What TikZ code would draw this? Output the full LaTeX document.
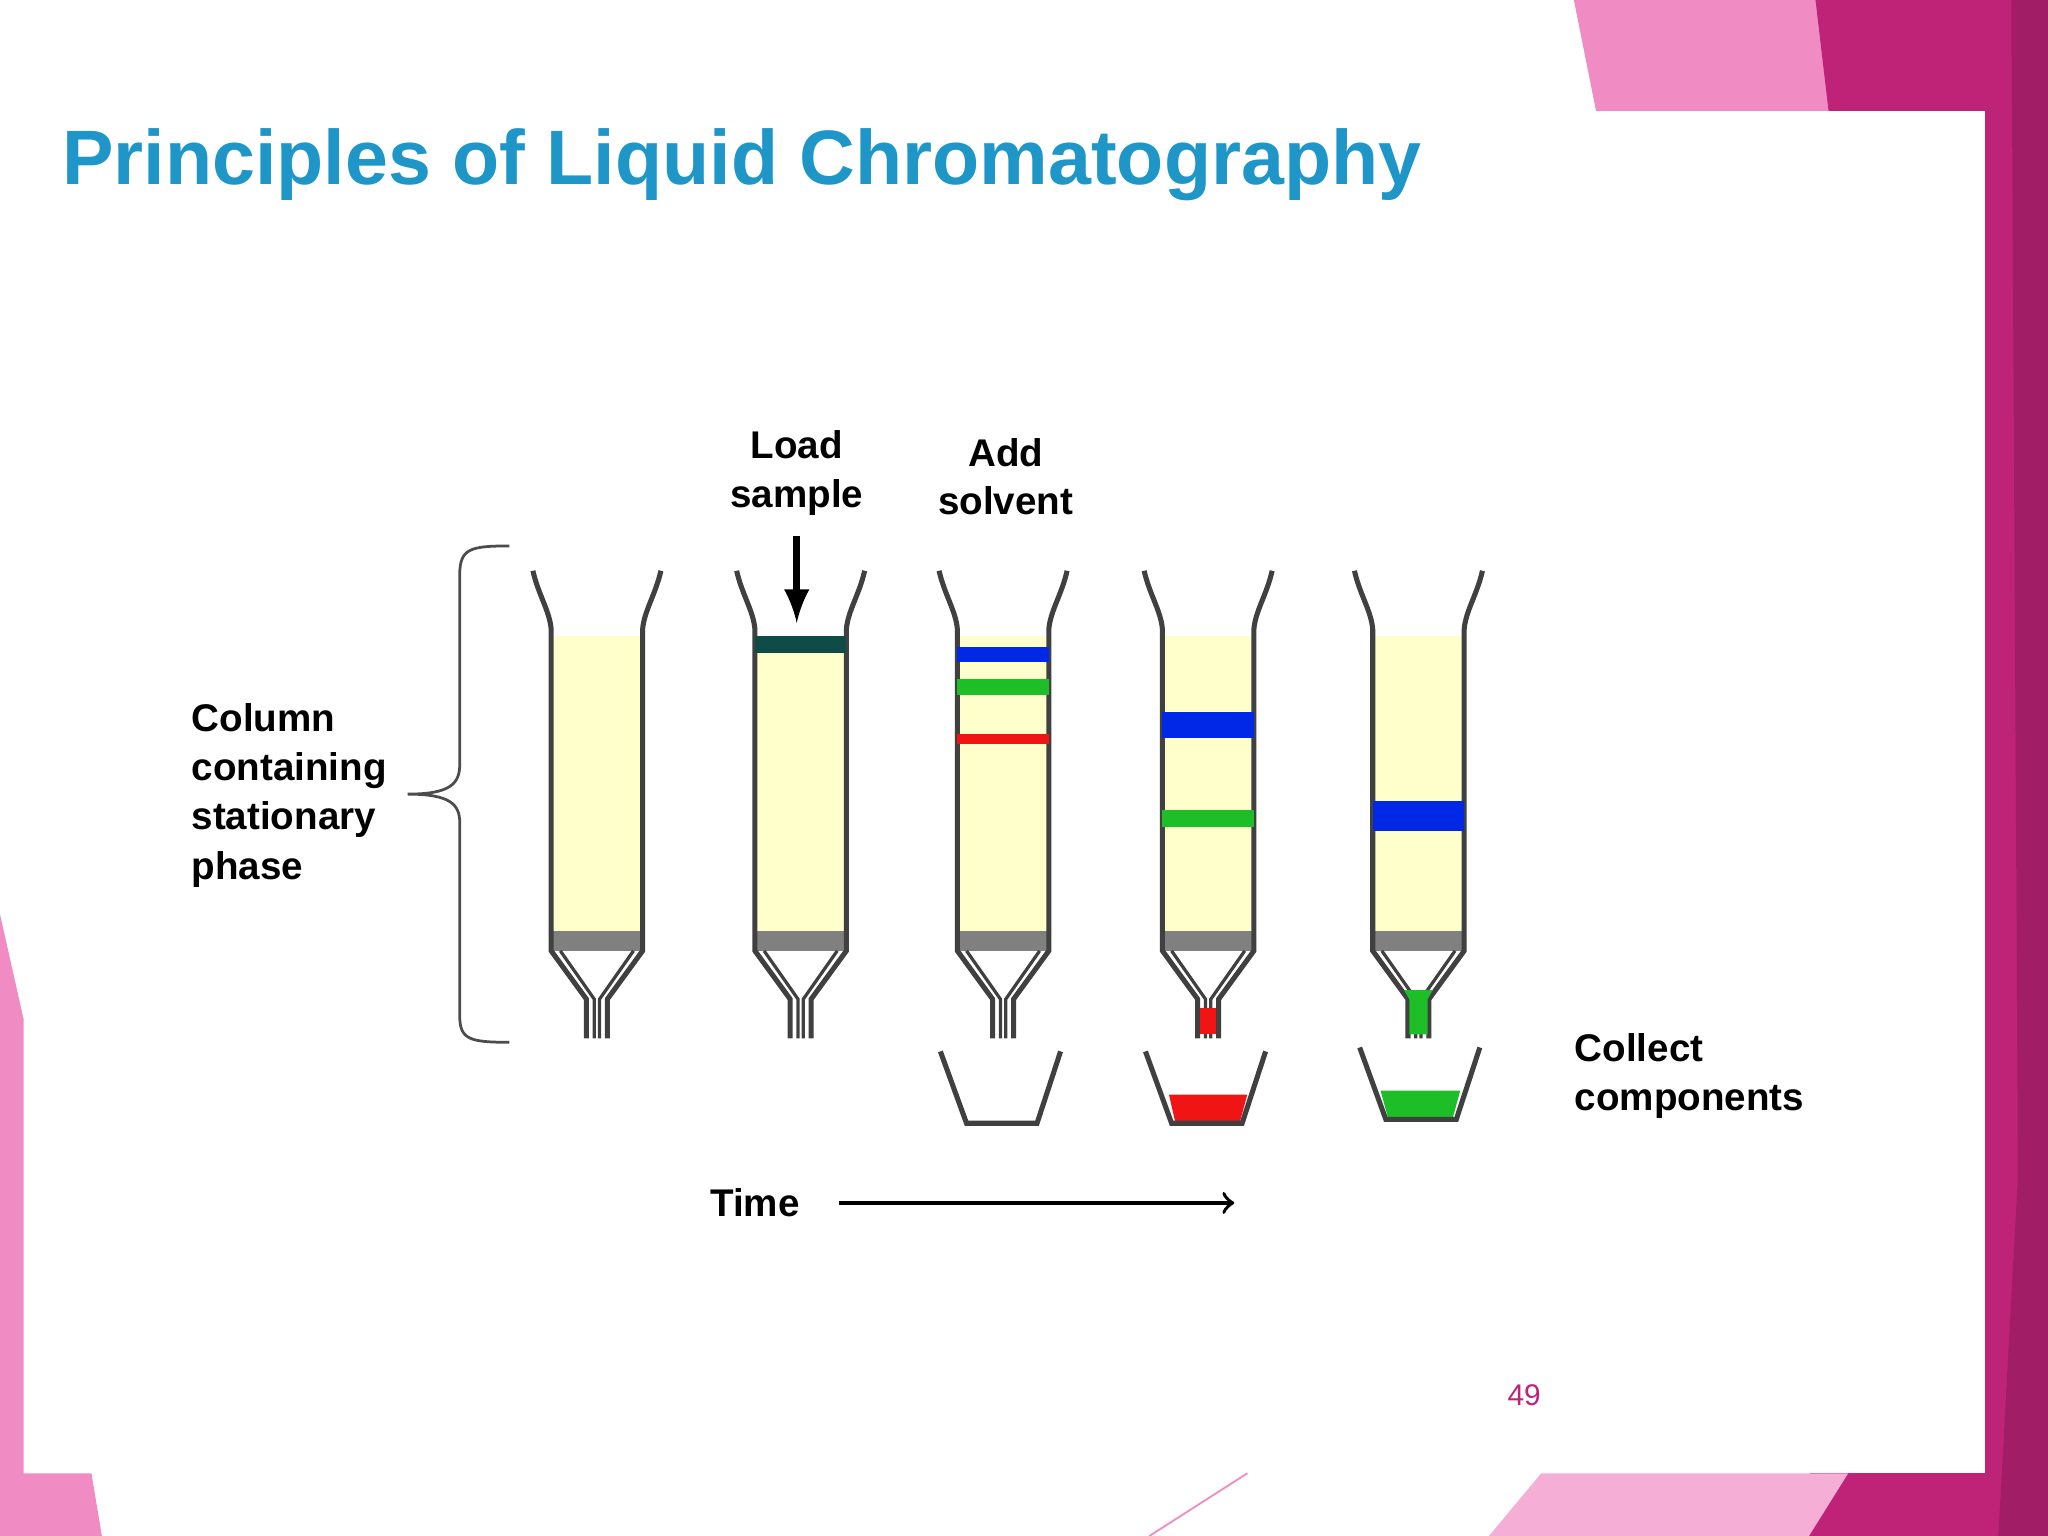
\documentclass[tikz,border=0pt]{standalone}
\usepackage{fontspec}
\setmainfont{Liberation Sans}
\begin{document}
\begin{tikzpicture}[x=0.01cm,y=-0.01cm,
 wall/.style={draw=black!75,line width=1.1pt},
 lbl/.style={font=\bfseries\fontsize{8.4}{10.6}\selectfont,align=center,inner sep=0},
 band/.style={draw=none}]
\definecolor{mag}{RGB}{190,35,120}
\definecolor{lpink}{RGB}{240,140,195}
\definecolor{ttl}{RGB}{30,150,200}
\definecolor{colfill}{RGB}{255,255,204}
\definecolor{teal}{RGB}{15,76,72}
\definecolor{bblue}{RGB}{0,40,230}
\definecolor{bgreen}{RGB}{30,190,40}
\definecolor{bred}{RGB}{240,20,20}
\useasboundingbox (0,0) rectangle (1568,1176);
\fill[white] (0,0) rectangle (1568,1176);
% decorations
\fill[lpink] (1205,0) -- (1400,0) -- (1400,85) -- (1222,85) -- cycle;
\fill[mag] (1390,0) -- (1568,0) -- (1568,1176) -- (1385,1176) -- (1400,85) -- cycle;
\fill[mag!85!black] (1540,0) -- (1568,0) -- (1568,1176) -- (1530,1176) -- (1545,900) -- cycle;
\fill[lpink] (0,700) -- (18,780) -- (18,1176) -- (0,1176) -- cycle;
\fill[lpink] (0,1128) -- (70,1128) -- (78,1176) -- (0,1176) -- cycle;
\fill[lpink!70] (1140,1176) -- (1180,1128) -- (1415,1128) -- (1385,1176) -- cycle;
\fill[white] (18,85) rectangle (1520,1128);
\fill[white] (0,0) rectangle (1205,85);
\draw[lpink,line width=0.4pt] (880,1176) -- (955,1128);
% title
\node[anchor=west,inner sep=0,text=ttl,font=\bfseries\fontsize{16.8}{20}\selectfont] (title) at (47,126) {Principles of Liquid Chromatography};
% columns
\foreach \cx/\n in {457/1,613/2,768/3,925/4,1086/5}{
 \fill[colfill] (\cx-35,487) rectangle (\cx+35,713);
 \fill[gray] (\cx-35,713) rectangle (\cx+35,728);
 \draw[wall] (\cx-49,437) .. controls (\cx-45,455) and (\cx-36,468) .. (\cx-35,482) -- (\cx-35,728) -- (\cx-8,765) -- (\cx-8,795);
 \draw[wall] (\cx+49,437) .. controls (\cx+45,455) and (\cx+36,468) .. (\cx+35,482) -- (\cx+35,728) -- (\cx+8,765) -- (\cx+8,795);
 \draw[wall,line width=0.7pt] (\cx-28,728) -- (\cx-2,765) -- (\cx-2,795);
 \draw[wall,line width=0.7pt] (\cx+28,728) -- (\cx+2,765) -- (\cx+2,795);
 \coordinate (c\n) at (\cx,437);
}
% bands
\fill[teal] (578,487) rectangle (648,500);
\fill[bblue] (733,495) rectangle (803,507);
\fill[bgreen] (733,520) rectangle (803,532);
\fill[bred] (733,562) rectangle (803,570);
\fill[bblue] (890,545) rectangle (960,565);
\fill[bgreen] (890,620) rectangle (960,633);
\fill[bred] (919,772) rectangle (931,792);
\fill[bblue] (1051,613) rectangle (1121,636);
\fill[bgreen] (1075,758) -- (1097,758) -- (1093,765) -- (1093,792) -- (1079,792) -- (1079,765) -- cycle;
% beakers
\fill[bred] (895,838) -- (955,838) -- (949,860) -- (900,860) -- cycle;
\fill[bgreen] (1057,835) -- (1118,835) -- (1112,857) -- (1063,857) -- cycle;
\draw[wall] (720,805) -- (740,860) -- (794,860) -- (812,805);
\draw[wall] (877,805) -- (897,860) -- (951,860) -- (969,805);
\draw[wall] (1041,802) -- (1061,857) -- (1115,857) -- (1133,802);
% labels
\node[lbl] (load) at (610,362) {Load\\sample};
\draw[-latex,line width=1.5pt] (610,410) -- (610,477);
\node[lbl] (add) at (770,365) {Add\\solvent};
\node[lbl,align=left,anchor=north west,font=\bfseries\fontsize{8.4}{10.7}\selectfont] (colt) at (146,538) {Column\\containing\\stationary\\phase};
\node[lbl,align=left,anchor=west] (coll) at (1205,824) {Collect\\components};
\draw[black!70,line width=0.6pt] (390,418) .. controls (360,418) and (352,420) .. (352,440) -- (352,585) .. controls (352,600) and (345,608) .. (312,608) .. controls (345,608) and (352,616) .. (352,630) -- (352,778) .. controls (352,796) and (360,798) .. (390,798);
\node[lbl,anchor=west] (time) at (543,921) {Time};
\draw[->,line width=0.8pt] (642,921) -- (945,921);
\node[text=mag,font=\fontsize{6.5}{8}\selectfont,inner sep=0] (pg) at (1167,1068) {49};
\end{tikzpicture}
\end{document}
